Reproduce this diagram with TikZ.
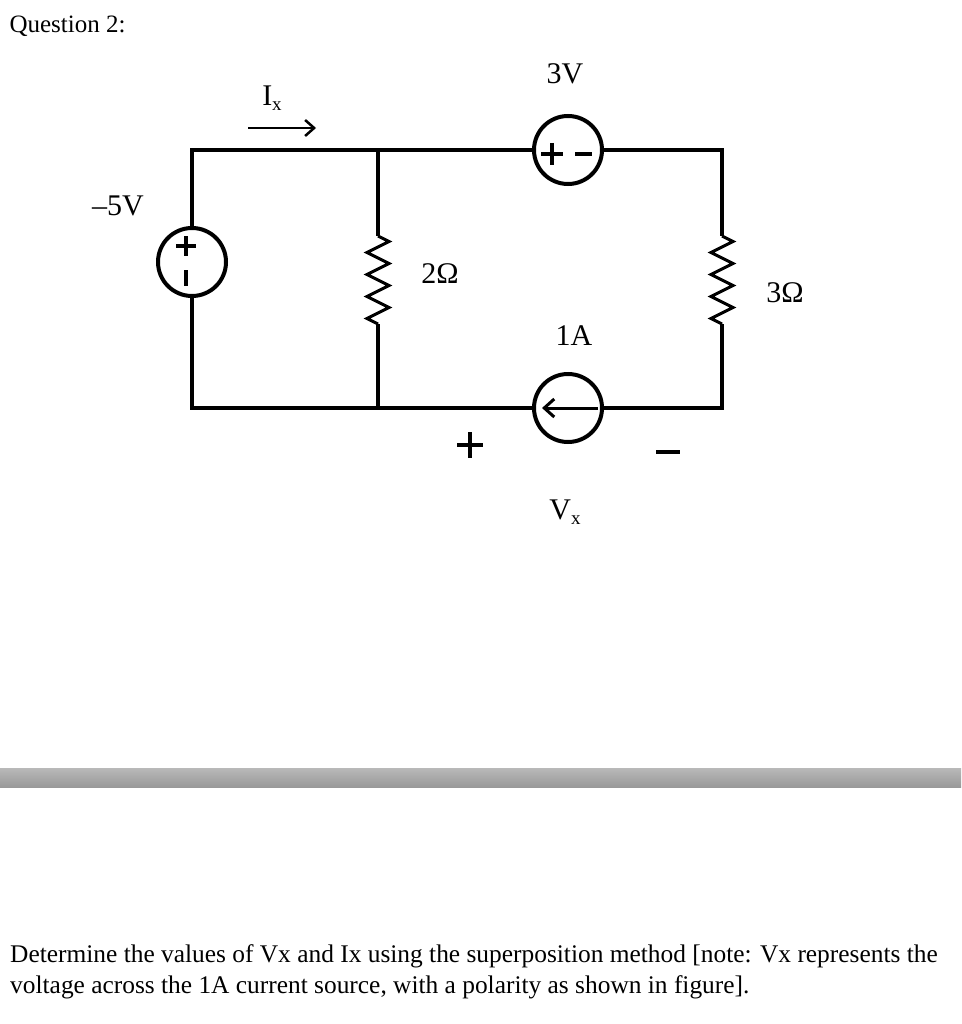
\documentclass[tikz,border=0pt]{standalone}
\usepackage{fontspec}
\setmainfont{Liberation Serif}
\usetikzlibrary{decorations.pathmorphing,arrows.meta}
\begin{document}
\begin{tikzpicture}[x=1pt,y=-1pt,
 wire/.style={line width=3.2pt},
 src/.style={circle,draw,line width=4pt,minimum size=68pt,inner sep=0pt},
 lbl/.style={font=\fontsize{30}{30}\selectfont,inner sep=0pt},
 res/.style={line width=3pt,decorate,decoration={zigzag,segment length=22pt,amplitude=11pt}}]
\useasboundingbox (0,0) rectangle (961,1024);
\node[anchor=west,font=\fontsize{25}{26}\selectfont] (q) at (6,26) {Question 2:};
\coordinate (tl) at (192,150); \coordinate (tm) at (378,150); \coordinate (tr) at (722,150);
\coordinate (bl) at (192,408); \coordinate (bm) at (378,408); \coordinate (br) at (722,408);
\node[src] (v5) at (192,262) {};
\node[src] (v3) at (568,150) {};
\node[src] (i1) at (568,408) {};
\coordinate (r2a) at (378,236); \coordinate (r2b) at (378,324);
\coordinate (r3a) at (722,236); \coordinate (r3b) at (722,324);
\draw[wire] (v5.north) -- (tl) -- (tm) -- (v3.west);
\draw[wire] (v3.east) -- (tr) -- (r3a);
\draw[wire] (r3b) -- (br) -- (i1.east);
\draw[wire] (i1.west) -- (bm) -- (bl) -- (v5.south);
\draw[wire] (tm) -- (r2a); \draw[wire] (r2b) -- (bm);
\draw[res] (r2a) -- (r2b);
\draw[res] (r3a) -- (r3b);
\draw[line width=4pt] (186,236) -- (186,256) (176,246) -- (196,246);
\draw[line width=4pt] (186,270) -- (186,286);
\draw[line width=4pt] (541,154) -- (563,154) (552,143) -- (552,165);
\draw[line width=4pt] (575,154) -- (592,154);
\draw[line width=3pt,-{Straight Barb[length=10pt,width=18pt]}] (598,408) -- (542,408);
\node[lbl] (l3v) at (565,74) {3V};
\node[lbl] (lix) at (272,98) {I\raisebox{-5pt}{\fontsize{19}{19}\selectfont x}};
\draw[line width=2.5pt,-{Straight Barb[length=9pt,width=16pt]}] (248,128) -- (316,128);
\node[lbl] (l5v) at (118,206) {–5V};
\node[lbl] (l2) at (440,274) {2Ω};
\node[lbl] (l3) at (785,293) {3Ω};
\node[lbl] (l1a) at (574,336) {1A};
\draw[line width=4pt] (470,432) -- (470,458) (457,445) -- (483,445);
\draw[line width=4pt] (656,452) -- (680,452);
\node[lbl] (lvx) at (565,512) {V\raisebox{-5pt}{\fontsize{19}{19}\selectfont x}};
\shade[top color=gray!55,bottom color=gray!80] (0,768) rectangle (961,787);
\node[anchor=north west,align=left,font=\fontsize{25.4}{31}\selectfont,inner sep=0pt] (txt) at (10,944)
{Determine the values of Vx and Ix using the superposition method [note: Vx represents the\\voltage across the 1A current source, with a polarity as shown in figure].};
\end{tikzpicture}
\end{document}
